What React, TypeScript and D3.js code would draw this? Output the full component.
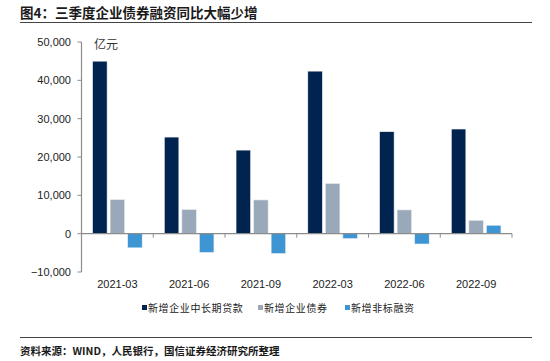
import React from "react";
import * as d3 from "d3";

const categories = ["2021-03", "2021-06", "2021-09", "2022-03", "2022-06", "2022-09"];
const seriesNames = ["新增企业中长期贷款", "新增企业债券", "新增非标融资"];
const longLoans = [45000, 25200, 21800, 42400, 26600, 27300];
const bonds = [8900, 6300, 8800, 13100, 6200, 3500];
const nonStandard = [-3700, -4900, -5200, -1300, -2700, 2200];
const yTicks = [-10000, 0, 10000, 20000, 30000, 40000, 50000];

const colors = ["#00244f", "#99a9b9", "#3e95d3"];
const axisColor = "#8c8c8c";

export default function App() {
  const width = 550;
  const height = 361;
  const left = 81.5;
  const right = 512;
  const top = 42;
  const bottom = 272;

  const series = [longLoans, bonds, nonStandard];

  const x = d3.scaleBand().domain(categories).range([left, right]).paddingInner(0).paddingOuter(0);
  const inner = d3
    .scaleBand()
    .domain(seriesNames)
    .range([0, x.bandwidth()])
    .paddingInner(0.17)
    .paddingOuter(0.63);
  const y = d3.scaleLinear().domain([-10000, 50000]).range([bottom, top]);
  const fmt = d3.format(",");
  const y0 = y(0);

  const legendX = [142, 258, 345];

  return (
    <svg
      width={width}
      height={height}
      style={{ position: "fixed", left: 0, top: 0, background: "#fff" }}
      fontFamily="'Liberation Sans', Arial, sans-serif"
    >
      {/* title */}
      <text x={20} y={18} fontSize={13.5} fontWeight="bold" fill="#1a1a1a" fontFamily="'Noto Sans CJK SC', sans-serif">
        图4：三季度企业债券融资同比大幅少增
      </text>
      <line x1={20} x2={532} y1={22.5} y2={22.5} stroke="#444" strokeWidth={1.2} />

      {/* unit */}
      <text x={94} y={49} fontSize={12} fill="#333" fontFamily="'Noto Sans CJK SC', sans-serif">
        亿元
      </text>

      {/* bars */}
      {series.map((vals, si) =>
        vals.map((v, ci) => {
          const bx = (x(categories[ci]) ?? 0) + (inner(seriesNames[si]) ?? 0);
          return (
            <rect
              key={`${si}-${ci}`}
              x={bx}
              y={Math.min(y(v), y0)}
              width={inner.bandwidth()}
              height={Math.abs(y(v) - y0)}
              fill={colors[si]}
              stroke="#eef1f4"
              strokeWidth={0.6}
            />
          );
        })
      )}

      {/* y axis */}
      <line x1={left} x2={left} y1={top} y2={bottom} stroke={axisColor} strokeWidth={1.2} />
      {yTicks.map((t) => (
        <g key={t}>
          <line x1={left - 4} x2={left} y1={y(t)} y2={y(t)} stroke={axisColor} strokeWidth={1} />
          <text x={71} y={y(t)} dy="0.35em" textAnchor="end" fontSize={11} fill="#222">
            {fmt(t)}
          </text>
        </g>
      ))}

      {/* x axis on zero */}
      <line x1={left} x2={right} y1={y0} y2={y0} stroke={axisColor} strokeWidth={1.2} />
      {categories.map((c) => {
        const cx = (x(c) ?? 0) + x.bandwidth();
        return <line key={c} x1={cx} x2={cx} y1={y0} y2={y0 + 4} stroke={axisColor} strokeWidth={1} />;
      })}
      {categories.map((c) => (
        <text
          key={c}
          x={(x(c) ?? 0) + x.bandwidth() / 2}
          y={288}
          textAnchor="middle"
          fontSize={11}
          fill="#222"
        >
          {c}
        </text>
      ))}

      {/* legend */}
      {seriesNames.map((n, i) => (
        <g key={n}>
          <rect x={legendX[i]} y={305} width={5} height={5} fill={colors[i]} />
          <text
            x={legendX[i] + 6}
            y={311.5}
            fontSize={10}
            letterSpacing={0.6}
            fill="#222"
            fontFamily="'Noto Sans CJK SC', sans-serif"
          >
            {n}
          </text>
        </g>
      ))}

      {/* source */}
      <line x1={20} x2={532} y1={337.5} y2={337.5} stroke="#444" strokeWidth={1} />
      <text x={20} y={355} fontSize={10.5} fontWeight="bold" fill="#1a1a1a" fontFamily="'Noto Sans CJK SC', sans-serif">
        资料来源：WIND，人民银行，国信证券经济研究所整理
      </text>
    </svg>
  );
}
